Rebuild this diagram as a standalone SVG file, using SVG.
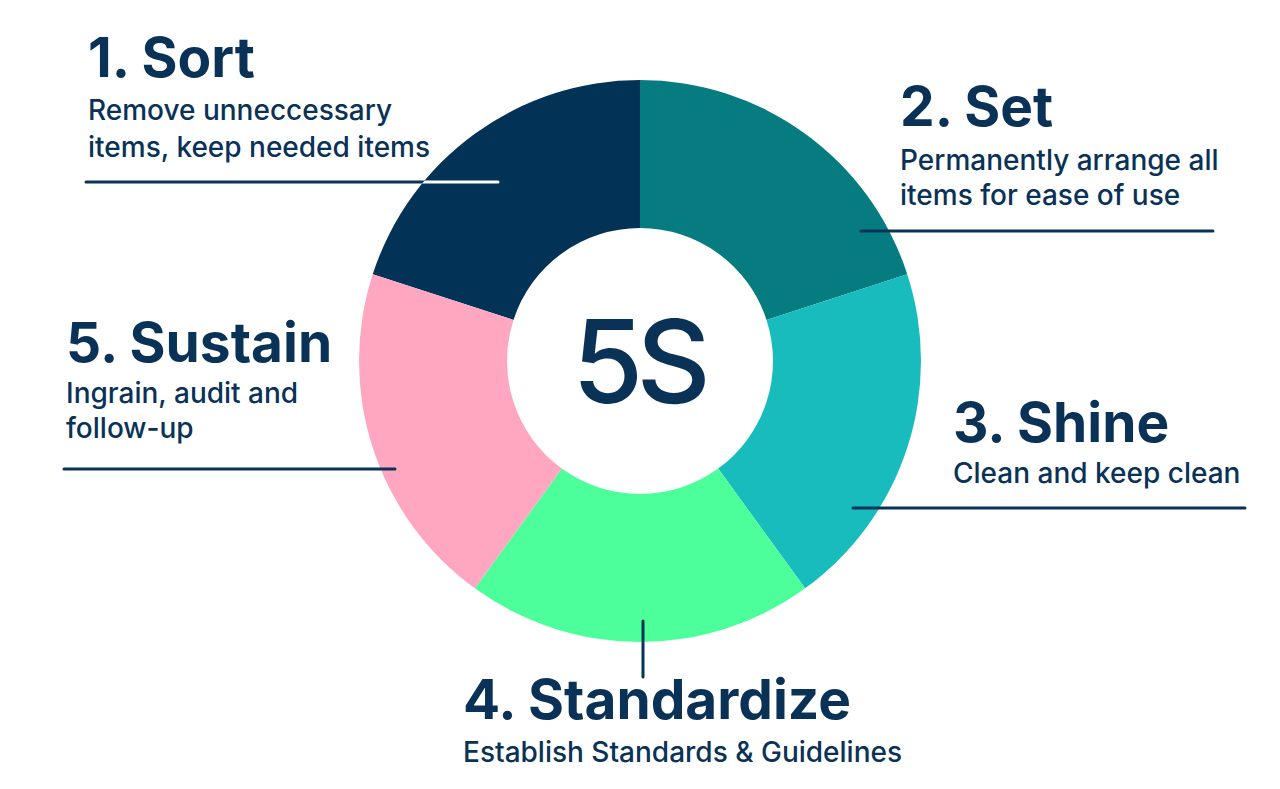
<svg xmlns="http://www.w3.org/2000/svg" width="1280" height="789" viewBox="0 0 1280 789">
<style>
.h{font-family:Inter,"Liberation Sans",sans-serif;font-weight:700;font-size:55px;fill:#0a3257}
.s{font-family:Inter,"Liberation Sans",sans-serif;font-weight:500;font-size:28px;fill:#0a3257}
.c{font-family:Inter,"Liberation Sans",sans-serif;font-weight:500;font-size:115px;letter-spacing:-7px;fill:#0a3257}
.ln{stroke:#0a3257;stroke-width:3;stroke-linecap:round;fill:none}
</style>
<defs>
<clipPath id="clipSort"><path d="M372.75 274.17 A281 281 0 0 1 640 80 L640 228 A133 133 0 0 0 513.51 319.9 Z"/></clipPath>
</defs>
<rect width="1280" height="789" fill="#ffffff"/>
<g id="donut">
<path id="seg-sort" fill="#023356" d="M372.75 274.17 A281 281 0 0 1 640 80 L640 228 A133 133 0 0 0 513.51 319.9 Z"/>
<path id="seg-set" fill="#077c80" d="M640 80 A281 281 0 0 1 907.25 274.17 L766.49 319.9 A133 133 0 0 0 640 228 Z"/>
<path id="seg-shine" fill="#19bcbd" d="M907.25 274.17 A281 281 0 0 1 805.17 588.33 L718.18 468.6 A133 133 0 0 0 766.49 319.9 Z"/>
<path id="seg-standardize" fill="#4cff9b" d="M805.17 588.33 A281 281 0 0 1 474.83 588.33 L561.82 468.6 A133 133 0 0 0 718.18 468.6 Z"/>
<path id="seg-sustain" fill="#ffa7c1" d="M474.83 588.33 A281 281 0 0 1 372.75 274.17 L513.51 319.9 A133 133 0 0 0 561.82 468.6 Z"/>
</g>
<g id="center">
<text class="c" x="638" y="403" text-anchor="middle">5S</text>
</g>
<g id="connectors">
<line class="ln" x1="86" y1="182" x2="498" y2="182"/>
<line x1="86" y1="182" x2="498" y2="182" stroke="#ffffff" stroke-width="3" stroke-linecap="round" clip-path="url(#clipSort)"/>
<line class="ln" x1="861" y1="231" x2="1213" y2="231"/>
<line class="ln" x1="853" y1="508" x2="1245" y2="508"/>
<line class="ln" x1="643" y1="621" x2="643" y2="677"/>
<line class="ln" x1="64" y1="469" x2="395" y2="469"/>
</g>
<g id="node-sort">
<text class="h" x="88" y="77">1. Sort</text>
<text class="s" x="88" y="120">Remove unneccessary</text>
<text class="s" x="88" y="157">items, keep needed items</text>
</g>
<g id="node-set">
<text class="h" x="900" y="126">2. Set</text>
<text class="s" x="900" y="170">Permanently arrange all</text>
<text class="s" x="900" y="205">items for ease of use</text>
</g>
<g id="node-shine">
<text class="h" x="953" y="442">3. Shine</text>
<text class="s" x="953" y="483">Clean and keep clean</text>
</g>
<g id="node-standardize">
<text class="h" x="463" y="719">4. Standardize</text>
<text class="s" x="463" y="762">Establish Standards &amp; Guidelines</text>
</g>
<g id="node-sustain">
<text class="h" x="66" y="362">5. Sustain</text>
<text class="s" x="66" y="403">Ingrain, audit and</text>
<text class="s" x="66" y="438">follow-up</text>
</g>
</svg>
